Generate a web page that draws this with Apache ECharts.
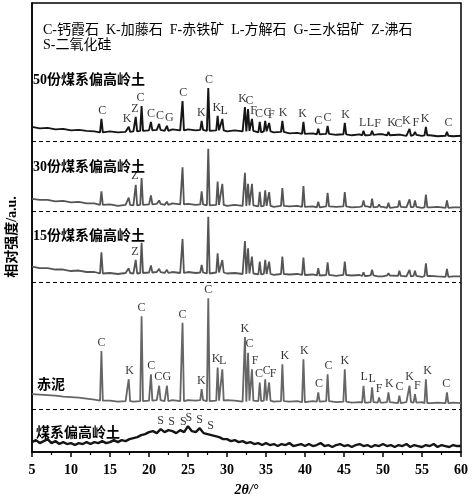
<!DOCTYPE html>
<html>
<head>
<meta charset="utf-8">
<script src="https://cdn.jsdelivr.net/npm/echarts@6/dist/echarts.min.js"></script>
<style>
html,body{margin:0;padding:0;background:#fff}
#chart{width:474px;height:502px}
</style>
</head>
<body>
<div id="chart"></div>
<script>
// 衍射峰位置 2θ/° 及物相
var peakPos = [13.9, 17.4, 18.3, 19.05, 20.25, 21.3, 22.3, 24.3, 26.75, 27.6, 28.8, 29.4, 32.3, 32.7, 33.2, 34.2, 34.9, 35.4, 37.1, 39.8, 41.7, 42.9, 45.1, 47.5, 48.6, 49.5, 50.7, 52.1, 53.4, 54.1, 55.5, 58.2];

// 各样品峰高（相对各自虚线基线）
var top50 = [22, 14, 24, 35, 19, 17, 15, 40, 20, 53, 25, 22, 34, 32, 22, 19, 20, 18, 20, 19, 12, 15, 18, 10, 10, 8, 9, 8, 12, 9, 14, 9];
var top30 = [20, 13.7, 26.7, 33.4, 16, 11, 9.7, 44.4, 20, 63, 30, 27.7, 38.7, 27.7, 27.7, 19.7, 21, 19.4, 23.4, 25.4, 9.7, 18.7, 19.4, 11, 12.7, 7, 8.7, 11, 12, 11, 16.7, 11];
var top15 = [30.3, 14.3, 22.7, 40, 17, 13.7, 12.7, 43.6, 17.6, 66, 29.3, 22.6, 41.6, 34.3, 26, 21, 22.7, 21, 26, 25, 14.3, 20.3, 21, 10.3, 12.7, 8, 9.3, 11.7, 12.7, 11.7, 19.3, 13.7];
var topRM = [59, 30.6, null, 94, 35.6, 24, 24, 87.3, 20.6, 112, 42.3, 40.6, 73, 57.3, 40.6, 27.3, 30.6, 27.3, 45.6, 50.6, 17.3, 35.6, 40.6, 24, 22.3, 12.3, 17.3, 14, 24, 15.6, 30.6, 17.3];

// 背景（2θ = 5 ~ 60，步长 1°）
var bg50 = [14,12.5,13,11.5,12,10.5,11,10,9.5,8.5,9.5,8.5,9,9.5,10,10.5,11,10,11.5,10.5,11.5,10.5,11,10,10.5,9.5,10.5,9.5,10,8.5,9.5,8.5,9,7.5,8,7,7.5,6.5,7,6,6.5,5.5,6.5,5.5,6,6.5,5.5,6,5,6,5,5.5,4.5,5,4.5,5];
var bg30 = [12.5,11.5,11.5,10,10.5,9,9.5,8,8,6.5,7,5.5,6.5,6,6.5,7,7.5,6.5,8,7,7.5,6.5,7,6,6.5,5.5,6.5,5.5,6,5,5.5,4.5,5.5,5,5.5,4.5,5,4,5,4.5,5,4,4.5,5,4,4.5,3.5,4.5,4,4.5,3.5,4,4.5,3.5,4,4];
var bg15 = [16,14.5,14.5,13,13,11.5,12,10.5,10.5,9,9.5,8.5,9.5,9,9.5,10,10.5,9.5,10.5,9.5,10.5,9.5,10,9,10,9,9.5,8.5,9,8,8.5,7.5,8.5,8,8.5,7.5,8,7,7.5,6.5,7.5,7,7.5,6.5,7,6,7,6.5,6,6.5,5.5,6.5,6,5.5,6,6];
var bgRM = [15.5,15,14.5,14,13,12.5,12,11,10,9,9,8,8.5,8,8.5,9,9.5,8.5,9.5,8.5,9.5,9,9.5,8.5,9,9.5,9,8,9,8.5,9,8,8.5,8,8.5,7.5,8.5,8,8.5,7.5,8,7,7.5,7,7.5,7,7.5,6.5,7.5,7,7.5,6.5,7,6.5,7,6.5];
// 煤系偏高岭土（2θ = 5 ~ 60，步长 0.5°）
var bgMK = [10,12,9,11,13,9,11,8,10,8,9,7,9,8,10,8,10,9,11,9,10,12,10,12,11,13,14,15,17,18,20,21,19,23,20,22,21,19,22,20,26,21,20,24,19,18,17,16,15,13,13,11,12,10,11,9,10,8,9,7,9,7,8,6,8,7,9,6,7,8,6,8,6,7,9,6,7,5,7,8,6,7,5,7,8,6,7,5,7,6,8,6,7,5,7,6,8,5,7,6,5,7,6,8,5,7,6,5,7,6,6];

// 虚线基线位置
var offsets = [313.3, 242.3, 170.7, 42.7, 0];

// 物相标注 [2θ, 符号]
var labels50 = [[14.0,'C'],[17.2,'K'],[18.2,'Z'],[18.9,'C'],[20.25,'C'],[21.4,'C'],[22.6,'G'],[24.4,'C'],[26.7,'K'],[27.7,'C'],[28.7,'K'],[29.65,'L'],[32.0,'K'],[32.9,'C'],[33.4,'F'],[34.1,'C'],[35.2,'C'],[35.7,'F'],[37.2,'K'],[39.7,'K'],[41.7,'C'],[42.9,'C'],[45.2,'K'],[47.4,'L'],[48.4,'L'],[49.3,'F'],[51.1,'K'],[52.0,'C'],[53.0,'K'],[54.2,'F'],[55.4,'K'],[58.4,'C']];
var labels30 = [[18.2,'Z']];
var labels15 = [[18.2,'Z']];
var labelsRM = [[13.9,'C'],[17.5,'K'],[19.05,'C'],[20.3,'C'],[21.2,'C'],[22.3,'G'],[24.3,'C'],[26.7,'K'],[27.6,'C'],[28.6,'K'],[29.45,'L'],[32.3,'K'],[32.9,'C'],[33.6,'F'],[34.1,'C'],[35.1,'C'],[35.9,'F'],[37.4,'K'],[39.9,'K'],[41.8,'C'],[43.0,'C'],[45.1,'K'],[47.6,'L'],[48.6,'L'],[49.5,'F'],[50.8,'K'],[52.1,'C'],[53.4,'K'],[54.4,'F'],[55.7,'K'],[58.1,'C']];
var labelsMK = [[21.5,'S'],[22.9,'S'],[24.4,'S'],[25.1,'S'],[26.5,'S'],[27.9,'S']];

var names = ['50份煤系偏高岭土', '30份煤系偏高岭土', '15份煤系偏高岭土', '赤泥', '煤系偏高岭土'];
var colors = ['#151515', '#555555', '#555555', '#666666', '#151515'];
var widths = [1.9, 1.8, 1.8, 1.8, 2.4];

var serif = '"Liberation Serif", "Times New Roman", "Noto Sans CJK SC", serif';

function buildTrace(bg, step, tops, offset) {
	var pts = [];
	var hw = 0.18;
	for (var i = 0; i < bg.length; i++) {
		var x = 5 + i * step;
		var near = false;
		if (tops) {
			for (var j = 0; j < peakPos.length; j++) {
				if (tops[j] != null && Math.abs(peakPos[j] - x) < 0.22) near = true;
			}
		}
		if (!near) pts.push([x, bg[i] + offset]);
	}
	if (tops) {
		for (var j = 0; j < peakPos.length; j++) {
			if (tops[j] == null) continue;
			var p = peakPos[j];
			var foot = bg[Math.round((p - 5) / step)] + offset;
			pts.push([p - hw, foot], [p, tops[j] + offset], [p + hw, foot]);
		}
	}
	pts.sort(function(a, b){ return a[0] - b[0]; });
	return pts;
}

function labelData(pts, labels) {
	return labels.map(function(l){
		var m = -Infinity;
		pts.forEach(function(p){
			if (Math.abs(p[0] - l[0]) <= 0.5 && p[1] > m) m = p[1];
		});
		return [l[0], m, l[1]];
	});
}

var traces = [
	buildTrace(bg50, 1, top50, offsets[0]),
	buildTrace(bg30, 1, top30, offsets[1]),
	buildTrace(bg15, 1, top15, offsets[2]),
	buildTrace(bgRM, 1, topRM, offsets[3]),
	buildTrace(bgMK, 0.5, null, offsets[4])
];
var labelSets = [labels50, labels30, labels15, labelsRM, labelsMK];

var series = [];
traces.forEach(function(t, i){
	var s = {
		name: names[i],
		type: 'line',
		data: t,
		symbol: 'none',
		lineStyle: {color: colors[i], width: widths[i]},
		z: 2
	};
	if (i < 4) {
		s.markLine = {
			silent: true,
			symbol: 'none',
			label: {show: false},
			lineStyle: {type: [4, 3], color: '#000', width: 1},
			data: [{yAxis: offsets[i]}]
		};
	}
	series.push(s);
	series.push({
		type: 'scatter',
		data: labelData(t, labelSets[i]),
		symbolSize: 1,
		itemStyle: {color: 'transparent'},
		label: {
			show: true,
			position: 'top',
			distance: 2,
			color: '#000',
			fontFamily: serif,
			fontSize: 12,
			formatter: function(p){ return p.value[2]; }
		},
		z: 3
	});
});

var nameY = [80, 167, 236, 385, 433];
var nameX = [33, 33, 33, 37, 36];
var graphics = [
	{type: 'text', left: 43, top: 23, style: {text: 'C-钙霞石  K-加藤石  F-赤铁矿  L-方解石  G-三水铝矿  Z-沸石', font: '14px ' + serif, fill: '#000'}},
	{type: 'text', left: 43, top: 38, style: {text: 'S-二氧化硅', font: '14px ' + serif, fill: '#000'}},
	// 纵轴名称，逆时针旋转
	{type: 'text', x: 12, y: 237, rotation: Math.PI / 2, style: {text: '相对强度/a.u.', font: 'bold 14px ' + serif, fill: '#000', align: 'center', verticalAlign: 'middle'}}
];
names.forEach(function(n, i){
	graphics.push({type: 'text', x: nameX[i], y: nameY[i], style: {text: n, font: 'bold 14px ' + serif, fill: '#000', verticalAlign: 'middle'}});
});

var chart = echarts.init(document.getElementById('chart'));
chart.setOption({
	animation: false,
	grid: {left: 32, right: 13, top: 3, bottom: 47, show: true, borderColor: '#000', borderWidth: 1.5},
	xAxis: {
		type: 'value', min: 5, max: 60, interval: 5,
		axisLine: {lineStyle: {color: '#000', width: 1.5}},
		axisTick: {length: 5, lineStyle: {color: '#000', width: 1.5}},
		minorTick: {show: true, splitNumber: 2, length: 3, lineStyle: {color: '#000', width: 1.2}},
		splitLine: {show: false},
		axisLabel: {color: '#000', fontFamily: serif, fontWeight: 'bold', fontSize: 14, margin: 11},
		name: '2θ/°', nameLocation: 'middle', nameGap: 31,
		nameTextStyle: {color: '#000', fontFamily: serif, fontWeight: 'bold', fontStyle: 'italic', fontSize: 14}
	},
	yAxis: {
		type: 'value', min: 0, max: 452,
		axisLine: {show: true, lineStyle: {color: '#000', width: 1.5}},
		axisTick: {show: false},
		axisLabel: {show: false},
		splitLine: {show: false}
	},
	graphic: graphics,
	series: series
});
</script>
</body>
</html>
